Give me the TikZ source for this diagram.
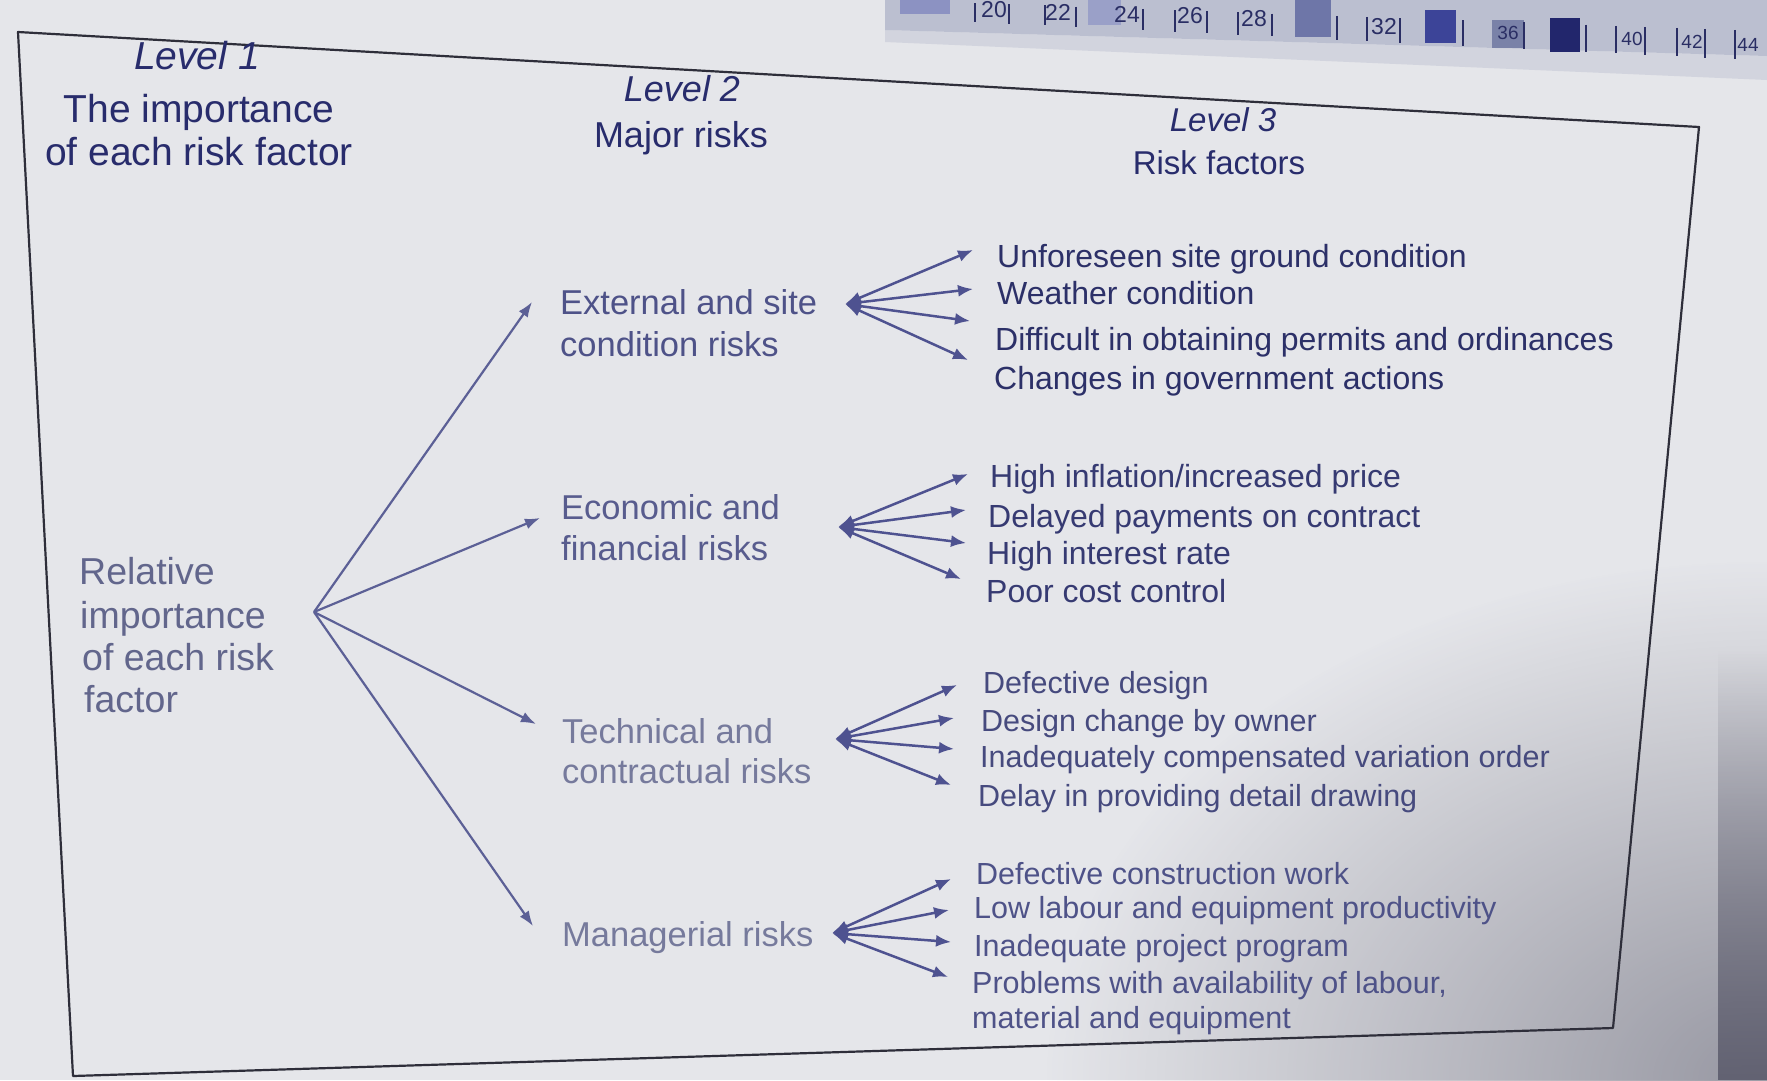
\documentclass[tikz,border=0pt]{standalone}
\usepackage{fontspec}
\setmainfont{Liberation Sans}
\usetikzlibrary{arrows.meta,fadings}
\definecolor{bgbase}{HTML}{E5E6EA}
\definecolor{bgdark}{HTML}{8A8A96}
\definecolor{stripc}{HTML}{626272}
\definecolor{framec}{HTML}{2E2E3A}
\definecolor{navyA}{HTML}{282C6C}
\definecolor{relc}{HTML}{62668C}
\definecolor{ltwoA}{HTML}{4E5288}
\definecolor{ltwoB}{HTML}{585C8E}
\definecolor{ltwoC}{HTML}{767A9C}
\definecolor{lthrA}{HTML}{2C3068}
\definecolor{lthrB}{HTML}{363A72}
\definecolor{lthrC}{HTML}{464A7E}
\definecolor{lthrD}{HTML}{4E5288}
\definecolor{arrc}{HTML}{5C6096}
\definecolor{arrcB}{HTML}{4E5290}
\definecolor{rulerc}{HTML}{BBBFD0}
\definecolor{rulertxt}{HTML}{2A2E64}
\definecolor{blkA}{HTML}{8C92C2}
\definecolor{blkB}{HTML}{9AA0C8}
\definecolor{blkC}{HTML}{6E76A8}
\definecolor{blkD}{HTML}{3C4498}
\definecolor{blkE}{HTML}{7A82A8}
\definecolor{blkF}{HTML}{22266C}
\tikzfading[name=brfade, inner color=transparent!0, outer color=transparent!100]
\begin{document}
\begin{tikzpicture}[x=1pt,y=-1pt,
  base/.style={inner sep=0pt, text height=0.72em, text depth=0pt, yshift=-10pt},
  lt/.style={base, anchor=west},
  ct/.style={base, anchor=center},
  hdA/.style={ct, font=\fontsize{39}{46}\selectfont, text=navyA},
  hdB/.style={ct, font=\fontsize{36}{42}\selectfont, text=navyA},
  hdC/.style={ct, font=\fontsize{33}{40}\selectfont, text=navyA},
  rel/.style={lt, font=\fontsize{37.5}{44}\selectfont, text=relc},
  ltwo/.style={lt, font=\fontsize{34.5}{41}\selectfont},
  lthr/.style={lt, font=\fontsize{32}{38}\selectfont},
  lthrs/.style={lt, font=\fontsize{30.5}{36}\selectfont},
  mainarrow/.style={draw=arrc, line width=2.2pt, -{Latex[length=15pt,width=11pt]}},
  subarrow/.style={draw=arrcB, line width=2.5pt, {Latex[length=16pt,width=12pt]}-{Latex[length=15pt,width=12pt]}},
  rnum/.style={inner sep=0pt, text=rulertxt, font=\fontsize{23}{24}\selectfont},
  rnums/.style={inner sep=0pt, text=rulertxt, font=\fontsize{19}{20}\selectfont}
]
\useasboundingbox (0,0) rectangle (1767,1080);
% background of the photographed screen
\fill[bgbase] (0,0) rectangle (1767,1080);
\fill[bgdark, path fading=brfade, opacity=0.85] (1767,1080) ellipse (720 and 520);
\fill[stripc, path fading=north] (1718,650) rectangle (1767,1080);
% ruler band
\fill[rulerc] (885,0) -- (1767,0) -- (1767,56) -- (885,30) -- cycle;
\fill[rulerc, opacity=0.45] (885,30) -- (1767,56) -- (1767,80) -- (885,42) -- cycle;
\fill[blkA] (900,0) rectangle (950,14);
\fill[blkB] (1088,0) rectangle (1121,25);
\fill[blkC] (1295,0) rectangle (1331,37);
\fill[blkD] (1425,10) rectangle (1456,43);
\fill[blkE] (1492,20) rectangle (1524,48);
\fill[blkF] (1550,18) rectangle (1580,52);
\foreach \x in {975,1009,1045,1076,1143,1175,1207,1238,1272,1337,1367,1400,1463,1524,1586,1616,1645,1677,1705,1735}{
  \pgfmathsetmacro\tt{3+(\x-975)*0.0355}
  \pgfmathsetmacro\bb{22+(\x-975)*0.0487}
  \draw[rulertxt, line width=1.6pt] (\x,\tt) -- (\x,\bb);
}
\node[rnum] (r20) at (994,10) {20};
\node[rnum] (r22) at (1058,12) {22};
\node[rnum] (r24) at (1127,14) {24};
\node[rnum] (r26) at (1190,16) {26};
\node[rnum] (r28) at (1254,19) {28};
\node[rnum] (r32) at (1384,27) {32};
\node[rnums] (r36) at (1508,33) {36};
\node[rnums] (r40) at (1632,39) {40};
\node[rnums] (r42) at (1692,42) {42};
\node[rnums] (r44) at (1748,45) {44};
% frame
\draw[framec, line width=2.2pt, line join=round] (18,32) -- (1699,127) -- (1613,1028) -- (73,1076) -- cycle;
% headers
\node[hdA] (h1a) at (197,56) {\itshape Level 1};
\node[hdA] (h1b) at (199,109) {The importance};
\node[hdA] (h1c) at (199,152) {of each risk factor};
\node[hdB] (h2a) at (682,88) {\itshape Level 2};
\node[hdB] (h2b) at (681,134) {Major risks};
\node[hdC] (h3a) at (1223,118) {\itshape Level 3};
\node[hdC] (h3b) at (1219,161) {Risk factors};
% level 1
\node[rel] (rel1) at (79,571) {Relative};
\node[rel] (rel2) at (80,615) {importance};
\node[rel] (rel3) at (82,657) {of each risk};
\node[rel] (rel4) at (84,699) {factor};
\coordinate (hub) at (314,612);
% level 2
\node[ltwo, text=ltwoA] (ea) at (560,301) {External and site};
\node[ltwo, text=ltwoA] (eb) at (560,343) {condition risks};
\node[ltwo, text=ltwoB] (fa) at (561,506) {Economic and};
\node[ltwo, text=ltwoB] (fb) at (561,547) {financial risks};
\node[ltwo, text=ltwoC] (ta) at (562,730) {Technical and};
\node[ltwo, text=ltwoC] (tb) at (562,770) {contractual risks};
\node[ltwo, text=ltwoC] (ma) at (562,933) {Managerial risks};
\coordinate (t1) at (532,302);
\coordinate (t2) at (540,518);
\coordinate (t3) at (536,724);
\coordinate (t4) at (533,926);
\draw[mainarrow] (hub) -- (t1);
\draw[mainarrow] (hub) -- (t2);
\draw[mainarrow] (hub) -- (t3);
\draw[mainarrow] (hub) -- (t4);
% level 3, group 1
\node[lthr, text=lthrA] (g1a) at (997,254) {Unforeseen site ground condition};
\node[lthr, text=lthrA] (g1b) at (997,291) {Weather condition};
\node[lthr, text=lthrA] (g1c) at (995,337) {Difficult in obtaining permits and ordinances};
\node[lthr, text=lthrA] (g1d) at (994,376) {Changes in government actions};
\coordinate (s1) at (845,304);
\coordinate (s1a) at (973,250);
\coordinate (s1b) at (973,289);
\coordinate (s1c) at (970,321);
\coordinate (s1d) at (968,360);
\foreach \e in {s1a,s1b,s1c,s1d} \draw[subarrow] (s1) -- (\e);
% group 2
\node[lthr, text=lthrB] (g2a) at (990,474) {High inflation/increased price};
\node[lthr, text=lthrB] (g2b) at (988,514) {Delayed payments on contract};
\node[lthr, text=lthrB] (g2c) at (987,551) {High interest rate};
\node[lthr, text=lthrB] (g2d) at (986,589) {Poor cost control};
\coordinate (s2) at (838,527);
\coordinate (s2a) at (968,474);
\coordinate (s2b) at (966,510);
\coordinate (s2c) at (966,543);
\coordinate (s2d) at (961,579);
\foreach \e in {s2a,s2b,s2c,s2d} \draw[subarrow] (s2) -- (\e);
% group 3
\node[lthrs, text=lthrC] (g3a) at (983,680) {Defective design};
\node[lthrs, text=lthrC] (g3b) at (981,718) {Design change by owner};
\node[lthrs, text=lthrC] (g3c) at (980,754) {Inadequately compensated variation order};
\node[lthrs, text=lthrC] (g3d) at (978,793) {Delay in providing detail drawing};
\coordinate (s3) at (835,739);
\coordinate (s3a) at (957,685);
\coordinate (s3b) at (954,718);
\coordinate (s3c) at (954,749);
\coordinate (s3d) at (951,785);
\foreach \e in {s3a,s3b,s3c,s3d} \draw[subarrow] (s3) -- (\e);
% group 4
\node[lthrs, text=lthrD] (g4a) at (976,871) {Defective construction work};
\node[lthrs, text=lthrD] (g4b) at (974,905) {Low labour and equipment productivity};
\node[lthrs, text=lthrD] (g4c) at (974,943) {Inadequate project program};
\node[lthrs, text=lthrD] (g4d) at (972,980) {Problems with availability of labour,};
\node[lthrs, text=lthrD] (g4e) at (972,1015) {material and equipment};
\coordinate (s4) at (832,933);
\coordinate (s4a) at (951,879);
\coordinate (s4b) at (949,910);
\coordinate (s4c) at (951,942);
\coordinate (s4d) at (948,977);
\foreach \e in {s4a,s4b,s4c,s4d} \draw[subarrow] (s4) -- (\e);
\end{tikzpicture}
\end{document}
